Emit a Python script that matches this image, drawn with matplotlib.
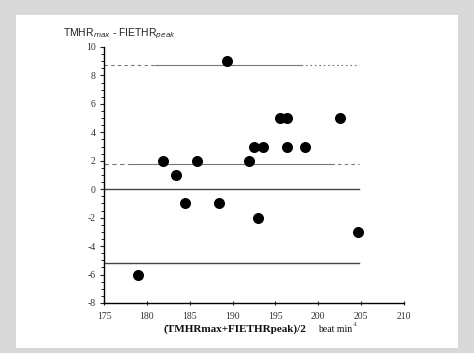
import matplotlib.pyplot as plt
from matplotlib.patches import Rectangle

plt.rcParams['axes.unicode_minus'] = False

# mean of the two HR measures vs their difference
mean_hr = [179, 181.9, 183.4, 184.5, 185.9, 188.4, 189.4, 191.9, 192.5, 193.5,
           193.0, 195.5, 196.4, 196.4, 198.5, 202.5, 204.6]
diff_hr = [-6, 2, 1, -1, 2, -1, 9, 2, 3, 3, -2, 5, 5, 3, 3, 5, -3]

bias = 1.75
upper = 8.7
lower = -5.2

fig = plt.figure(figsize=(4.74, 3.53), dpi=100)
fig.patch.set_facecolor('#d8d8d8')
fig.patches.append(Rectangle((16/474, 1-348/353), (458-16)/474, (348-15)/353,
                             transform=fig.transFigure, facecolor='white',
                             edgecolor='none', zorder=-1))

ax = fig.add_axes([104/474, 1-303/353, 300/474, 256/353])
ax.set_facecolor('none')
ax.set_zorder(2)

x0, x1 = 175, 204.8
# upper / lower limit lines look part dashed part solid in the scan
ax.plot([x0, 181], [upper, upper], color='#777777', lw=0.8, ls=(0, (3, 3)))
ax.plot([181, 198], [upper, upper], color='#777777', lw=0.8)
ax.plot([198, x1], [upper, upper], color='#777777', lw=0.8, ls=(0, (1.5, 2.5)))
ax.plot([x0, 178], [bias, bias], color='#777777', lw=0.8, ls=(0, (4, 3)))
ax.plot([178, 201.5], [bias, bias], color='#777777', lw=0.8)
ax.plot([201.5, x1], [bias, bias], color='#777777', lw=0.8, ls=(0, (3, 3)))
ax.plot([x0, x1], [0, 0], color='#444444', lw=1.0)
ax.plot([x0, x1], [lower, lower], color='#444444', lw=1.0)

ax.scatter(mean_hr, diff_hr, s=48, color='black', zorder=3)

ax.set_xlim(175, 210)
ax.set_ylim(-8, 10)
ax.set_xticks(range(175, 211, 5))
ax.set_yticks(range(-8, 11, 2))
ax.set_yticks([v / 2 for v in range(-16, 21)], minor=True)
for s in ['top', 'right']:
    ax.spines[s].set_visible(False)
for s in ['left', 'bottom']:
    ax.spines[s].set_linewidth(1.0)
ax.tick_params(axis='both', labelsize=7, direction='out', length=3, width=0.8,
               colors='#222222', labelcolor='#333333', pad=3)
ax.tick_params(axis='y', which='minor', length=2, width=0.6)
ax.tick_params(axis='x', direction='inout', length=3, pad=5)
for lab in ax.get_xticklabels() + ax.get_yticklabels():
    lab.set_family('Liberation Serif')

fig.text(63/474, 1-34/353, r'TMHR$_{\mathit{max}}$ - FIETHR$_{\mathit{peak}}$',
         fontsize=7.5, family='Liberation Sans', color='#222222', va='center')
fig.text(163/474, 1-329/353, '(TMHRmax+FIETHRpeak)/2', fontsize=8,
         family='Liberation Serif', weight='bold', va='center', color='#111111')
fig.text(318/474, 1-329/353, 'beat min', fontsize=7,
         family='Liberation Serif', va='center', color='#111111')
fig.text(353/474, 1-325/353, '-1', fontsize=4.5,
         family='Liberation Serif', va='center', color='#111111')

fig.savefig('out.png', dpi=100, facecolor=fig.get_facecolor())
